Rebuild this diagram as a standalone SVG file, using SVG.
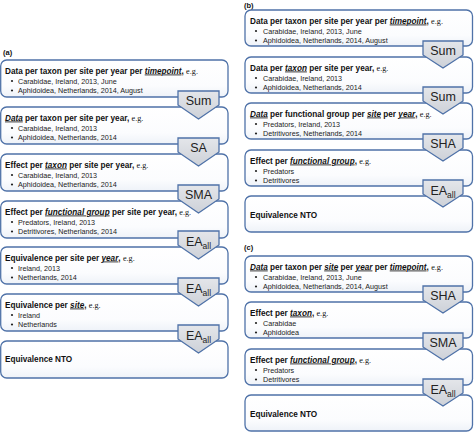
<svg xmlns="http://www.w3.org/2000/svg" width="474" height="433" viewBox="0 0 474 433">
<defs>
<linearGradient id="bg" x1="0" y1="0" x2="0" y2="1">
<stop offset="0" stop-color="#ffffff"/>
<stop offset="0.7" stop-color="#fbfcfe"/>
<stop offset="1" stop-color="#eef2f8"/>
</linearGradient>
<linearGradient id="pg" x1="0" y1="0" x2="0" y2="1">
<stop offset="0" stop-color="#e4e6ea"/>
<stop offset="1" stop-color="#cdd1d8"/>
</linearGradient>
</defs>
<style>
.box{fill:url(#bg);stroke:#4f72a8;stroke-width:1.3}
.pent{fill:url(#pg);stroke:#4f72a8;stroke-width:1.3;stroke-linejoin:miter}
.t{font-family:"Liberation Sans",Arial,sans-serif;font-size:8.2px;font-weight:bold;fill:#111}
.b{font-family:"Liberation Sans",Arial,sans-serif;font-size:7.2px;fill:#222}
.iu{font-style:italic;text-decoration:underline}
.eg{font-family:"Liberation Serif","Times New Roman",serif;font-weight:normal}
.lab{font-family:"Liberation Sans",Arial,sans-serif;font-size:12.5px;fill:#222;text-anchor:middle}
.sub{font-size:8.5px}
.sec{font-family:"Liberation Sans",Arial,sans-serif;font-size:7.5px;font-weight:bold;fill:#111}
.dot{fill:#222}
</style>

<text class="sec" x="3" y="55">(a)</text>
<text class="sec" x="244" y="8">(b)</text>
<text class="sec" x="244" y="250">(c)</text>

<!-- Panel a -->
<g id="a1"><rect class="box" x="0.7" y="60" width="227.3" height="37" rx="6"/>
<text class="t" x="5" y="73.5">Data per taxon per site per year per <tspan class="iu">timepoint</tspan>, <tspan class="eg">e.g.</tspan></text>
<circle class="dot" cx="12" cy="81" r="1.1"/><text class="b" x="18" y="83.5">Carabidae, Ireland, 2013, June</text>
<circle class="dot" cx="12" cy="90.5" r="1.1"/><text class="b" x="18" y="93">Aphidoidea, Netherlands, 2014, August</text></g>

<g id="a2"><rect class="box" x="0.7" y="107" width="227.3" height="37" rx="6"/>
<text class="t" x="5" y="120.5"><tspan class="iu">Data</tspan> per taxon per site per year, <tspan class="eg">e.g.</tspan></text>
<circle class="dot" cx="12" cy="128" r="1.1"/><text class="b" x="18" y="130.5">Carabidae, Ireland, 2013</text>
<circle class="dot" cx="12" cy="137.5" r="1.1"/><text class="b" x="18" y="140">Aphidoidea, Netherlands, 2014</text></g>

<g id="a3"><rect class="box" x="0.7" y="154" width="227.3" height="37" rx="6"/>
<text class="t" x="5" y="167.5">Effect per <tspan class="iu">taxon</tspan> per site per year, <tspan class="eg">e.g.</tspan></text>
<circle class="dot" cx="12" cy="175" r="1.1"/><text class="b" x="18" y="177.5">Carabidae, Ireland, 2013</text>
<circle class="dot" cx="12" cy="184.5" r="1.1"/><text class="b" x="18" y="187">Aphidoidea, Netherlands, 2014</text></g>

<g id="a4"><rect class="box" x="0.7" y="201" width="227.3" height="37" rx="6"/>
<text class="t" x="5" y="214.5">Effect per <tspan class="iu">functional group</tspan> per site per year, <tspan class="eg">e.g.</tspan></text>
<circle class="dot" cx="12" cy="222" r="1.1"/><text class="b" x="18" y="224.5">Predators, Ireland, 2013</text>
<circle class="dot" cx="12" cy="231.5" r="1.1"/><text class="b" x="18" y="234">Detritivores, Netherlands, 2014</text></g>

<g id="a5"><rect class="box" x="0.7" y="247" width="227.3" height="37" rx="6"/>
<text class="t" x="5" y="260.5">Equivalence per site per <tspan class="iu">year</tspan>, <tspan class="eg">e.g.</tspan></text>
<circle class="dot" cx="12" cy="268" r="1.1"/><text class="b" x="18" y="270.5">Ireland, 2013</text>
<circle class="dot" cx="12" cy="277.5" r="1.1"/><text class="b" x="18" y="280">Netherlands, 2014</text></g>

<g id="a6"><rect class="box" x="0.7" y="294" width="227.3" height="37" rx="6"/>
<text class="t" x="5" y="307.5">Equivalence per <tspan class="iu">site</tspan>, <tspan class="eg">e.g.</tspan></text>
<circle class="dot" cx="12" cy="315" r="1.1"/><text class="b" x="18" y="317.5">Ireland</text>
<circle class="dot" cx="12" cy="324.5" r="1.1"/><text class="b" x="18" y="327">Netherlands</text></g>

<g id="a7"><rect class="box" x="0.7" y="341" width="227.3" height="37" rx="6"/>
<text class="t" x="5" y="362">Equivalence NTO</text></g>

<!-- Panel b -->
<g id="b1"><rect class="box" x="245" y="10" width="227.5" height="36" rx="6"/>
<text class="t" x="250" y="23.5">Data per taxon per site per year per <tspan class="iu">timepoint</tspan>, <tspan class="eg">e.g.</tspan></text>
<circle class="dot" cx="256" cy="31" r="1.1"/><text class="b" x="263" y="33.5">Carabidae, Ireland, 2013, June</text>
<circle class="dot" cx="256" cy="40.5" r="1.1"/><text class="b" x="263" y="43">Aphidoidea, Netherlands, 2014, August</text></g>

<g id="b2"><rect class="box" x="245" y="57" width="227.5" height="36" rx="6"/>
<text class="t" x="250" y="70.5">Data per <tspan class="iu">taxon</tspan> per site per year, <tspan class="eg">e.g.</tspan></text>
<circle class="dot" cx="256" cy="78" r="1.1"/><text class="b" x="263" y="80.5">Carabidae, Ireland, 2013</text>
<circle class="dot" cx="256" cy="87.5" r="1.1"/><text class="b" x="263" y="90">Aphidoidea, Netherlands, 2014</text></g>

<g id="b3"><rect class="box" x="245" y="103" width="227.5" height="36" rx="6"/>
<text class="t" x="250" y="116.5"><tspan class="iu">Data</tspan> per functional group per <tspan class="iu">site</tspan> per <tspan class="iu">year</tspan>, <tspan class="eg">e.g.</tspan></text>
<circle class="dot" cx="256" cy="124" r="1.1"/><text class="b" x="263" y="126.5">Predators, Ireland, 2013</text>
<circle class="dot" cx="256" cy="133.5" r="1.1"/><text class="b" x="263" y="136">Detritivores, Netherlands, 2014</text></g>

<g id="b4"><rect class="box" x="245" y="150" width="227.5" height="36" rx="6"/>
<text class="t" x="250" y="163.5">Effect per <tspan class="iu">functional group</tspan>, <tspan class="eg">e.g.</tspan></text>
<circle class="dot" cx="256" cy="171" r="1.1"/><text class="b" x="263" y="173.5">Predators</text>
<circle class="dot" cx="256" cy="180.5" r="1.1"/><text class="b" x="263" y="183">Detritivores</text></g>

<g id="b5"><rect class="box" x="245" y="196" width="227.5" height="36" rx="6"/>
<text class="t" x="250" y="217.5">Equivalence NTO</text></g>

<!-- Panel c -->
<g id="c1"><rect class="box" x="245" y="256" width="227.5" height="36" rx="6"/>
<text class="t" x="250" y="269.5"><tspan class="iu">Data</tspan> per taxon per <tspan class="iu">site</tspan> per <tspan class="iu">year</tspan> per <tspan class="iu">timepoint</tspan>, <tspan class="eg">e.g.</tspan></text>
<circle class="dot" cx="256" cy="277" r="1.1"/><text class="b" x="263" y="279.5">Carabidae, Ireland, 2013, June</text>
<circle class="dot" cx="256" cy="286.5" r="1.1"/><text class="b" x="263" y="289">Aphidoidea, Netherlands, 2014, August</text></g>

<g id="c2"><rect class="box" x="245" y="302" width="227.5" height="36" rx="6"/>
<text class="t" x="250" y="315.5">Effect per <tspan class="iu">taxon</tspan>, <tspan class="eg">e.g.</tspan></text>
<circle class="dot" cx="256" cy="323" r="1.1"/><text class="b" x="263" y="325.5">Carabidae</text>
<circle class="dot" cx="256" cy="332.5" r="1.1"/><text class="b" x="263" y="335">Aphidoidea</text></g>

<g id="c3"><rect class="box" x="245" y="349" width="227.5" height="36" rx="6"/>
<text class="t" x="250" y="362.5">Effect per <tspan class="iu">functional group</tspan>, <tspan class="eg">e.g.</tspan></text>
<circle class="dot" cx="256" cy="370" r="1.1"/><text class="b" x="263" y="372.5">Predators</text>
<circle class="dot" cx="256" cy="379.5" r="1.1"/><text class="b" x="263" y="382">Detritivores</text></g>

<g id="c4"><rect class="box" x="245" y="395" width="227.5" height="36" rx="6"/>
<text class="t" x="250" y="416.5">Equivalence NTO</text></g>

<!-- Connectors (operator arrows) -->
<g id="connectors">
<g id="a-sum"><polygon class="pent" points="178,91 219,91 219,105 198.5,119 178,105"/><text class="lab" x="198.5" y="105">Sum</text></g>
<g id="a-sa"><polygon class="pent" points="178,138 219,138 219,152 198.5,166 178,152"/><text class="lab" x="198.5" y="152">SA</text></g>
<g id="a-sma"><polygon class="pent" points="178,185 219,185 219,199 198.5,213 178,199"/><text class="lab" x="198.5" y="199">SMA</text></g>
<g id="a-ea1"><polygon class="pent" points="178,231 219,231 219,245 198.5,259 178,245"/><text class="lab" x="198.5" y="245.5">EA<tspan class="sub" dy="3">all</tspan></text></g>
<g id="a-ea2"><polygon class="pent" points="178,278 219,278 219,292 198.5,306 178,292"/><text class="lab" x="198.5" y="292.5">EA<tspan class="sub" dy="3">all</tspan></text></g>
<g id="a-ea3"><polygon class="pent" points="178,325 219,325 219,339 198.5,353 178,339"/><text class="lab" x="198.5" y="339.5">EA<tspan class="sub" dy="3">all</tspan></text></g>

<g id="b-sum1"><polygon class="pent" points="423,41 463,41 463,55 443,68 423,55"/><text class="lab" x="443" y="55">Sum</text></g>
<g id="b-sum2"><polygon class="pent" points="423,87 463,87 463,101 443,114 423,101"/><text class="lab" x="443" y="101">Sum</text></g>
<g id="b-sha"><polygon class="pent" points="423,134 463,134 463,148 443,161 423,148"/><text class="lab" x="443" y="148">SHA</text></g>
<g id="b-ea"><polygon class="pent" points="423,180 463,180 463,194 443,207 423,194"/><text class="lab" x="443" y="194.5">EA<tspan class="sub" dy="3">all</tspan></text></g>

<g id="c-sha"><polygon class="pent" points="423,286 463,286 463,300 443,313 423,300"/><text class="lab" x="443" y="300">SHA</text></g>
<g id="c-sma"><polygon class="pent" points="423,333 463,333 463,347 443,360 423,347"/><text class="lab" x="443" y="347">SMA</text></g>
<g id="c-ea"><polygon class="pent" points="423,379 463,379 463,393 443,406 423,393"/><text class="lab" x="443" y="393.5">EA<tspan class="sub" dy="3">all</tspan></text></g>
</g>
</svg>
